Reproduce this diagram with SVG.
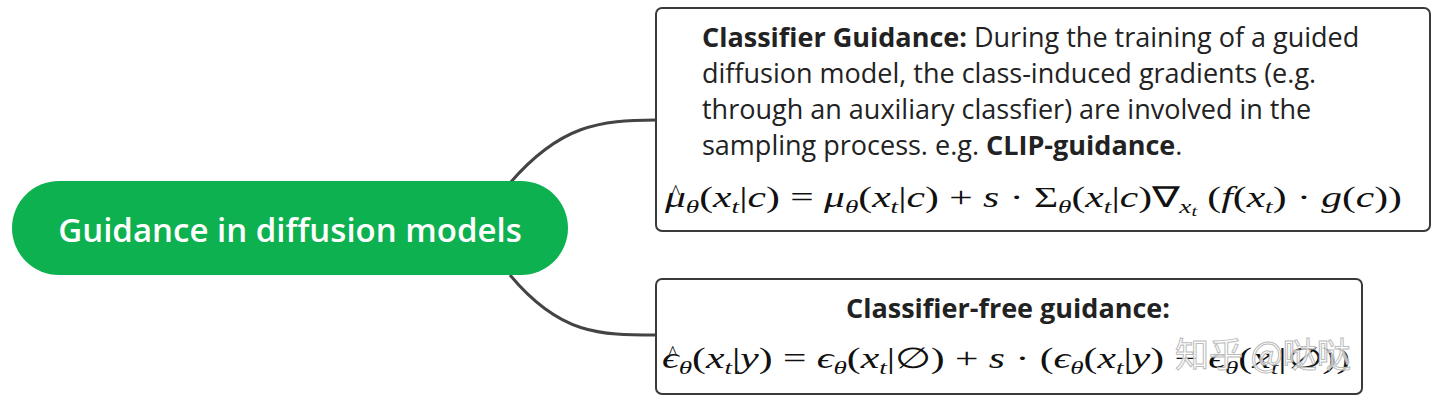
<svg xmlns="http://www.w3.org/2000/svg" width="1440" height="412" viewBox="0 0 1440 412">
<style>
.box{fill:#fff;stroke:#3a3a3a;stroke-width:2}
.t{font-family:"Open Sans","Noto Sans",sans-serif;font-size:27px;fill:#222}
.b{font-weight:bold}
.m{font-family:"Liberation Serif",serif;font-size:29px;fill:#111}
.i{font-style:italic}
.s{font-size:19px}
.h{font-family:"Liberation Serif",serif;font-size:20px;fill:#111}
.c{fill:none;stroke:#444;stroke-width:3}
</style>
<rect width="1440" height="412" fill="#fff"/>
<g id="connectors">
<path class="c" d="M510,183 C560,125 600,120 656,120"/>
<path class="c" d="M510,275 C560,335 600,335 656,335"/>
</g>
<g id="root">
<rect x="12" y="181" width="556" height="94" rx="47" fill="#0eb14f"/>
<text x="290" y="242" text-anchor="middle" font-family="'Open Sans','Noto Sans',sans-serif" font-size="33" font-weight="600" fill="#fff">Guidance in diffusion models</text>
</g>
<g id="classifier">
<rect class="box" x="656" y="8" width="774" height="223" rx="6"/>
<text class="t" x="702" y="47"><tspan class="b">Classifier Guidance:</tspan> During the training of a guided</text>
<text class="t" x="702" y="83">diffusion model, the class-induced gradients (e.g.</text>
<text class="t" x="702" y="119">through an auxiliary classfier) are involved in the</text>
<text class="t" x="702" y="155">sampling process. e.g. <tspan class="b">CLIP-guidance</tspan>.</text>
<text class="h" x="671" y="199">^</text>
<text class="m" x="665" y="207" textLength="737" lengthAdjust="spacingAndGlyphs"><tspan class="i">μ</tspan><tspan class="i s" dy="6">θ</tspan><tspan dy="-6">(</tspan><tspan class="i">x</tspan><tspan class="i s" dy="6">t</tspan><tspan dy="-6">|</tspan><tspan class="i">c</tspan>) = <tspan class="i">μ</tspan><tspan class="i s" dy="6">θ</tspan><tspan dy="-6">(</tspan><tspan class="i">x</tspan><tspan class="i s" dy="6">t</tspan><tspan dy="-6">|</tspan><tspan class="i">c</tspan>) + <tspan class="i">s</tspan> · Σ<tspan class="i s" dy="6">θ</tspan><tspan dy="-6">(</tspan><tspan class="i">x</tspan><tspan class="i s" dy="6">t</tspan><tspan dy="-6">|</tspan><tspan class="i">c</tspan>)∇<tspan class="i s" dy="6">x</tspan><tspan class="i" font-size="14" dy="3">t</tspan><tspan dy="-9"> (</tspan><tspan class="i">f</tspan>(<tspan class="i">x</tspan><tspan class="i s" dy="6">t</tspan><tspan dy="-6">) · </tspan><tspan class="i">g</tspan>(<tspan class="i">c</tspan>))</text>
</g>
<g id="free">
<rect class="box" x="656" y="279" width="706" height="115" rx="6"/>
<text class="t b" x="1008" y="318" text-anchor="middle">Classifier-free guidance:</text>
<text class="h" x="668" y="360">^</text>
<text class="m" x="662" y="368" textLength="688" lengthAdjust="spacingAndGlyphs"><tspan class="i">ϵ</tspan><tspan class="i s" dy="6">θ</tspan><tspan dy="-6">(</tspan><tspan class="i">x</tspan><tspan class="i s" dy="6">t</tspan><tspan dy="-6">|</tspan><tspan class="i">y</tspan>) = <tspan class="i">ϵ</tspan><tspan class="i s" dy="6">θ</tspan><tspan dy="-6">(</tspan><tspan class="i">x</tspan><tspan class="i s" dy="6">t</tspan><tspan dy="-6">|∅) + </tspan><tspan class="i">s</tspan> · (<tspan class="i">ϵ</tspan><tspan class="i s" dy="6">θ</tspan><tspan dy="-6">(</tspan><tspan class="i">x</tspan><tspan class="i s" dy="6">t</tspan><tspan dy="-6">|</tspan><tspan class="i">y</tspan>) − <tspan class="i">ϵ</tspan><tspan class="i s" dy="6">θ</tspan><tspan dy="-6">(</tspan><tspan class="i">x</tspan><tspan class="i s" dy="6">t</tspan><tspan dy="-6">|∅))</tspan></text>
</g>
<text x="1175" y="367" font-family="'Noto Sans CJK SC',sans-serif" font-size="34" fill="#fff" fill-opacity="0.75" stroke="#bbb" stroke-width="1">知乎 @哒哒</text>
</svg>
